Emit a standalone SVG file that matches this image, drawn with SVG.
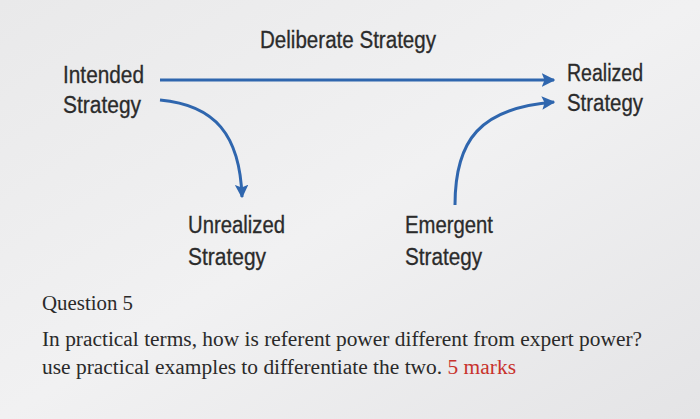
<svg xmlns="http://www.w3.org/2000/svg" width="700" height="419" viewBox="0 0 700 419">
<defs>
<linearGradient id="bg" x1="0" y1="0" x2="1" y2="1"><stop offset="0" stop-color="#e9e9ea"/><stop offset="0.5" stop-color="#f1f1f2"/><stop offset="1" stop-color="#e4e4e6"/></linearGradient>
<marker id="ah" viewBox="0 0 10 10" refX="9" refY="5" markerWidth="4.5" markerHeight="4.5" orient="auto"><path d="M0,0 L10,5 L0,10 L2,5 Z" fill="#2f66ae"/></marker>
</defs>
<style>
.l{font-family:"Liberation Sans",Arial,sans-serif;font-size:23px;fill:#2b2b2b;stroke:#2b2b2b;stroke-width:0.3}
.q{font-family:"Liberation Serif","Times New Roman",serif;font-size:20px;fill:#2a2a2a}
.c{fill:none;stroke:#2f66ae;stroke-width:3}
</style>
<rect width="700" height="419" fill="url(#bg)"/>
<g id="connectors">
<path class="c" d="M160,80 L554,80" marker-end="url(#ah)"/>
<path class="c" d="M160,100 C215,105 240,135 242,197" marker-end="url(#ah)"/>
<path class="c" d="M455,205 C455,140 480,108 554,102" marker-end="url(#ah)"/>
</g>
<g id="deliberate"><text class="l" x="348" y="48" text-anchor="middle" textLength="176" lengthAdjust="spacingAndGlyphs">Deliberate Strategy</text></g>
<g id="intended"><text class="l" x="63" y="83" textLength="81" lengthAdjust="spacingAndGlyphs">Intended</text><text class="l" x="63" y="113" textLength="78" lengthAdjust="spacingAndGlyphs">Strategy</text></g>
<g id="realized"><text class="l" x="567" y="81" textLength="76" lengthAdjust="spacingAndGlyphs">Realized</text><text class="l" x="567" y="111" textLength="76" lengthAdjust="spacingAndGlyphs">Strategy</text></g>
<g id="unrealized"><text class="l" x="188" y="233" textLength="97" lengthAdjust="spacingAndGlyphs">Unrealized</text><text class="l" x="188" y="265" textLength="78" lengthAdjust="spacingAndGlyphs">Strategy</text></g>
<g id="emergent"><text class="l" x="405" y="233" textLength="88" lengthAdjust="spacingAndGlyphs">Emergent</text><text class="l" x="405" y="265" textLength="77" lengthAdjust="spacingAndGlyphs">Strategy</text></g>
<g id="question">
<text class="q" x="42" y="310" textLength="91" lengthAdjust="spacingAndGlyphs">Question 5</text>
<text class="q" x="42" y="346" textLength="600" lengthAdjust="spacingAndGlyphs">In practical terms, how is referent power different from expert power?</text>
<text class="q" x="42" y="374" textLength="474" lengthAdjust="spacingAndGlyphs">use practical examples to differentiate the two. <tspan fill="#c8322c">5 marks</tspan></text>
</g>
</svg>
